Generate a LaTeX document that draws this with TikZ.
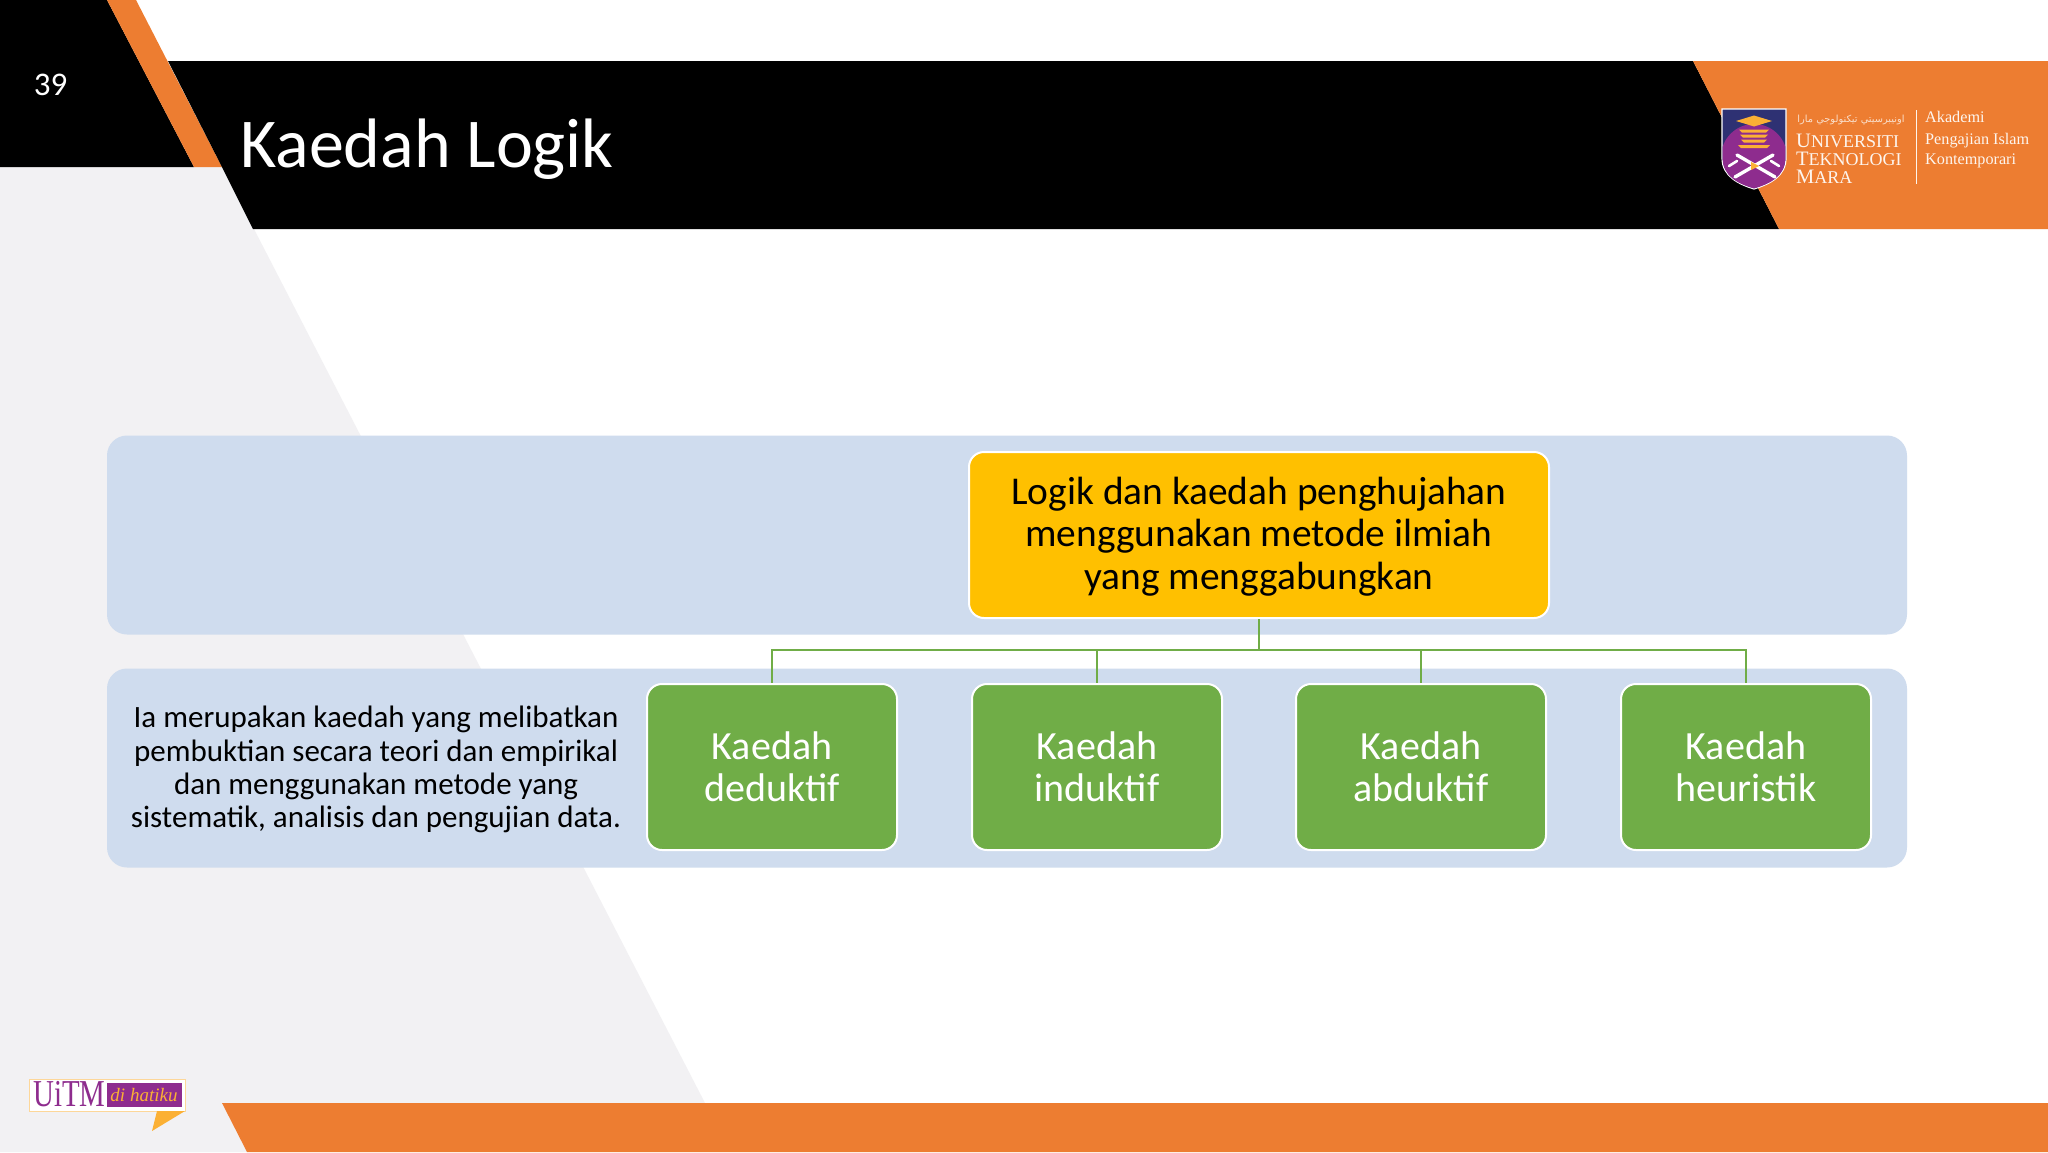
\documentclass[tikz,border=0pt]{standalone}
\usepackage{graphicx}
\usepackage{fontspec}
\setmainfont{Carlito}
\newfontfamily\logoserif{Liberation Serif}
\newfontfamily\arabicfont[Script=Arabic]{DejaVu Sans}
\TeXXeTstate=1
\definecolor{orangeB}{HTML}{ED7D31}
\definecolor{greyB}{HTML}{F2F1F3}
\definecolor{bandB}{HTML}{CFDCEE}
\definecolor{yellowB}{HTML}{FFC000}
\definecolor{greenB}{HTML}{70AD47}
\definecolor{purpleB}{HTML}{8E2C8E}
\definecolor{navyB}{HTML}{2E3173}
\definecolor{goldB}{HTML}{FBB034}
\newcommand{\fs}[1]{\fontsize{#1}{#1}\selectfont}
\newcommand{\fsl}[2]{\fontsize{#1}{#2}\selectfont}
\tikzset{
  band/.style={fill=bandB,rounded corners=20,minimum width=1800,minimum height=199,inner sep=0,draw=none},
  greenbox/.style={fill=greenB,draw=white,line width=2,rounded corners=15,minimum width=250,minimum height=166,inner sep=0,align=center,text=white,font=\fsl{40}{41.8}},
  topbox/.style={fill=yellowB,draw=white,line width=2,rounded corners=15,minimum width=580,minimum height=166,inner sep=0,align=center,text=black,font=\fsl{39.4}{42.5}},
  link/.style={draw=greenB,line width=2.4},
  logotxt/.style={text=white!92!orangeB,inner sep=0,anchor=base west},
}
\begin{document}
\begin{tikzpicture}[x=1pt,y=-1pt]
\useasboundingbox (0,0) rectangle (2048,1152);
\fill[white] (0,0) rectangle (2048,1152);
% background shapes
\fill[greyB] (0,167) -- (222,167) -- (705,1103) -- (222,1103) -- (247,1152) -- (0,1152) -- cycle;
\fill[black] (0,0) -- (107,0) -- (194,167) -- (0,167) -- cycle;
\fill[orangeB] (107,0) -- (136,0) -- (222,167) -- (194,167) -- cycle;
\fill[black] (168,61) -- (1693,61) -- (1779,229) -- (253,229) -- (222,167) -- cycle;
\fill[orangeB] (1693,61) -- (2048,61) -- (2048,229) -- (1779,229) -- cycle;
\fill[orangeB] (222,1103) -- (2048,1103) -- (2048,1152) -- (247,1152) -- cycle;
% header text
\node[text=white,font=\fs{33}] (pagenum) at (50.5,84.5) {39};
\node[text=white,font=\fs{70},anchor=base west,inner sep=0] (title) at (240,167) {Kaedah Logik};
% bands
\node[band] (bandA) at (1007,535) {};
\node[band] (bandC) at (1007,768) {};
% boxes
\node[topbox] (top) at (1259,535) {\rule{0pt}{30pt}Logik dan kaedah penghujahan\\menggunakan metode ilmiah\\yang menggabungkan};
\node[greenbox] (g1) at (772,767) {Kaedah\\deduktif};
\node[greenbox] (g2) at (1097,767) {Kaedah\\induktif};
\node[greenbox] (g3) at (1421,767) {Kaedah\\abduktif};
\node[greenbox] (g4) at (1746,767) {Kaedah\\heuristik};
\node[align=center,text=black,inner sep=0,font=\fsl{31}{33.3}] (desc) at (376,769.6) {Ia merupakan kaedah yang melibatkan\\pembuktian secara teori dan empirikal\\dan menggunakan metode yang\\sistematik, analisis dan pengujian data.};
% connectors
\coordinate (bus) at (1259,650);
\draw[link] (top.south) -- (bus);
\draw[link] (bus) -| (g1.north);
\draw[link] (bus) -| (g2.north);
\draw[link] (bus) -| (g3.north);
\draw[link] (bus) -| (g4.north);
% UiTM shield
\begin{scope}
\path[fill=navyB,draw=white,line width=1.2] (1722,109) -- (1786,109) -- (1786,158) .. controls (1786,176) and (1770,184) .. (1754,189) .. controls (1738,184) and (1722,176) .. (1722,158) -- cycle;
\clip (1722.6,109.6) -- (1785.4,109.6) -- (1785.4,158) .. controls (1785.4,176) and (1770,184) .. (1754,188.4) .. controls (1738,184) and (1722.6,176) .. (1722.6,158) -- cycle;
\fill[purpleB] (1754,157) circle[radius=33];
\end{scope}
\fill[goldB] (1736,121) -- (1754,115.5) -- (1772,121) -- (1754,126.5) -- cycle;
\foreach \yy/\hw in {129.5/15,134.5/14,139.5/13,145/16}{
  \fill[goldB] (1754-\hw,\yy) -- (1754+\hw,\yy) -- (1754+\hw-3,\yy+3.2) -- (1754-\hw+3,\yy+3.2) -- cycle;
}
\draw[white,line width=3.4,line cap=round] (1737,155) -- (1775,177);
\draw[white,line width=3.4,line cap=round] (1773,155) -- (1735,177);
\draw[white,line width=2.6,line cap=round] (1729,166) -- (1737,161);
\draw[white,line width=2.6,line cap=round] (1779,166) -- (1771,161);
\fill[goldB] (1751,162) -- (1759,166) -- (1751,170) -- cycle;
% logo text
\node[logotxt,font=\arabicfont\fs{9.8},anchor=center,text=white!75!orangeB] (jawi) at (1851,120) {\beginR اونيبرسيتي تيكنولوجي مارا\endR};
\node[logotxt,font=\logoserif\fs{20.5}] (uni) at (1796,147) {U\fs{18}NIVERSITI};
\node[logotxt,font=\logoserif\fs{20.5}] (tek) at (1796,165) {T\fs{18}EKNOLOGI};
\node[logotxt,font=\logoserif\fs{20.5}] (mara) at (1796,183) {M\fs{18}ARA};
\draw[white!92!orangeB,line width=1] (1916,110) -- (1916,184);
\node[logotxt,font=\logoserif\fs{16.2}] (ak) at (1925,122) {Akademi};
\node[logotxt,font=\logoserif\fs{16.2}] (pe) at (1925,144) {Pengajian Islam};
\node[logotxt,font=\logoserif\fs{16.2}] (ko) at (1925,164) {Kontemporari};
% di hatiku logo
\fill[white,draw=goldB!50!white,line width=1] (29,1079.5) rectangle (185,1111);
\fill[goldB] (157,1111) -- (185,1111) -- (152,1131) -- cycle;
\fill[purpleB] (107,1083) rectangle (182,1107);
\node[text=purpleB,font=\logoserif\fs{38},inner sep=0,anchor=base west] (uitm) at (33,1106) {\scalebox{0.76}[1]{UiTM}};
\node[text=goldB,font=\logoserif\itshape\fs{19},inner sep=0,anchor=center] (hati) at (144,1095.5) {di hatiku};
\end{tikzpicture}
\end{document}
